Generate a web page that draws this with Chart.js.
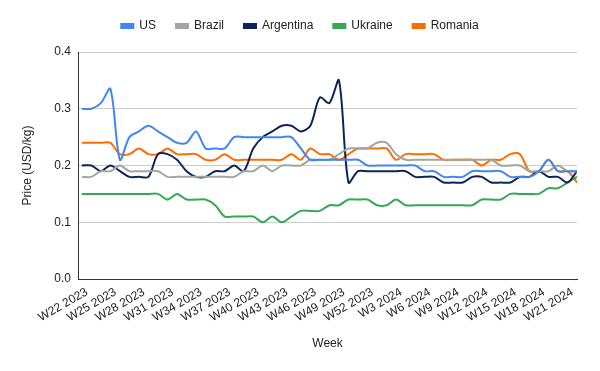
<!DOCTYPE html>
<html>
<head>
<meta charset="utf-8">
<script src="https://cdn.jsdelivr.net/npm/chart.js@4.4.1/dist/chart.umd.min.js"></script>
<style>
  html, body { margin: 0; padding: 0; background: #fff; }
  #wrap { width: 600px; height: 371px; }
</style>
</head>
<body>
<div id="wrap"><canvas id="chart"></canvas></div>
<script>
  // Weekly prices, W22 2023 .. W22 2024 (USD/kg)
  const WEEKS = [
    "W22 2023", "W23 2023", "W24 2023", "W25 2023", "W26 2023", "W27 2023", "W28 2023", "W29 2023",
    "W30 2023", "W31 2023", "W32 2023", "W33 2023", "W34 2023", "W35 2023", "W36 2023", "W37 2023",
    "W38 2023", "W39 2023", "W40 2023", "W41 2023", "W42 2023", "W43 2023", "W44 2023", "W45 2023",
    "W46 2023", "W47 2023", "W48 2023", "W49 2023", "W50 2023", "W51 2023", "W52 2023",
    "W1 2024", "W2 2024", "W3 2024", "W4 2024", "W5 2024", "W6 2024", "W7 2024", "W8 2024",
    "W9 2024", "W10 2024", "W11 2024", "W12 2024", "W13 2024", "W14 2024", "W15 2024", "W16 2024",
    "W17 2024", "W18 2024", "W19 2024", "W20 2024", "W21 2024", "W22 2024",
  ];
  const TICK_WEEKS = [
    "W22 2023", "W25 2023", "W28 2023", "W31 2023", "W34 2023", "W37 2023", "W40 2023", "W43 2023",
    "W46 2023", "W49 2023", "W52 2023", "W3 2024", "W6 2024", "W9 2024", "W12 2024", "W15 2024",
    "W18 2024", "W21 2024",
  ];

  const US = [
    0.30, 0.30, 0.31, 0.335, 0.21, 0.25, 0.26, 0.27, 0.26, 0.25, 0.24, 0.24, 0.26, 0.23, 0.23, 0.23,
    0.25, 0.25, 0.25, 0.25, 0.25, 0.25, 0.25, 0.23, 0.21, 0.21, 0.21, 0.21, 0.21, 0.21, 0.20,
    0.20, 0.20, 0.20, 0.20, 0.20, 0.19, 0.19, 0.18, 0.18, 0.18, 0.19, 0.19, 0.19, 0.19, 0.18, 0.18,
    0.18, 0.19, 0.21, 0.19, 0.19, 0.19,
  ];
  const BRAZIL = [
    0.18, 0.18, 0.19, 0.19, 0.20, 0.19, 0.19, 0.19, 0.19, 0.18, 0.18, 0.18, 0.18, 0.18, 0.18, 0.18,
    0.18, 0.19, 0.19, 0.20, 0.19, 0.20, 0.20, 0.20, 0.21, 0.21, 0.21, 0.22, 0.23, 0.23, 0.23,
    0.24, 0.24, 0.22, 0.21, 0.21, 0.21, 0.21, 0.21, 0.21, 0.21, 0.21, 0.21, 0.21, 0.20, 0.20, 0.20,
    0.19, 0.19, 0.19, 0.20, 0.19, 0.19,
  ];
  const ARGENTINA = [
    0.20, 0.20, 0.19, 0.20, 0.19, 0.18, 0.18, 0.18, 0.22, 0.22, 0.21, 0.19, 0.18, 0.18, 0.19, 0.19,
    0.20, 0.19, 0.23, 0.25, 0.26, 0.27, 0.27, 0.26, 0.27, 0.32, 0.31, 0.35, 0.17, 0.19, 0.19,
    0.19, 0.19, 0.19, 0.19, 0.18, 0.18, 0.18, 0.17, 0.17, 0.17, 0.18, 0.18, 0.17, 0.17, 0.17, 0.18,
    0.18, 0.19, 0.18, 0.18, 0.17, 0.19,
  ];
  const UKRAINE = [
    0.15, 0.15, 0.15, 0.15, 0.15, 0.15, 0.15, 0.15, 0.15, 0.14, 0.15, 0.14, 0.14, 0.14, 0.13, 0.11,
    0.11, 0.11, 0.11, 0.10, 0.11, 0.10, 0.11, 0.12, 0.12, 0.12, 0.13, 0.13, 0.14, 0.14, 0.14,
    0.13, 0.13, 0.14, 0.13, 0.13, 0.13, 0.13, 0.13, 0.13, 0.13, 0.13, 0.14, 0.14, 0.14, 0.15, 0.15,
    0.15, 0.15, 0.16, 0.16, 0.17, 0.18,
  ];
  const ROMANIA = [
    0.24, 0.24, 0.24, 0.24, 0.22, 0.22, 0.23, 0.22, 0.22, 0.23, 0.22, 0.22, 0.22, 0.21, 0.21, 0.22,
    0.21, 0.21, 0.21, 0.21, 0.21, 0.21, 0.22, 0.21, 0.23, 0.22, 0.22, 0.21, 0.22, 0.23, 0.23,
    0.23, 0.23, 0.21, 0.22, 0.22, 0.22, 0.22, 0.21, 0.21, 0.21, 0.21, 0.20, 0.21, 0.21, 0.22, 0.22,
    0.19, 0.19, 0.21, 0.19, 0.19, 0.17,
  ];

  const SERIES = [
    { label: "US", data: US, color: "#4285f4" },
    { label: "Brazil", data: BRAZIL, color: "#9ea89f" },
    { label: "Argentina", data: ARGENTINA, color: "#0c2459" },
    { label: "Ukraine", data: UKRAINE, color: "#34a853" },
    { label: "Romania", data: ROMANIA, color: "#ff6d01" },
  ];

  const TEXT = "#222222";
  Chart.defaults.font.family = "'Liberation Sans', Arial, sans-serif";
  Chart.defaults.font.size = 12;
  Chart.defaults.color = TEXT;

  // Pin the legend band height so the plot top lands where the reference has it
  const legendHeight = {
    id: "legendHeight",
    beforeInit(chart) {
      const fit = chart.legend.fit;
      chart.legend.fit = function () {
        fit.call(this);
        this.height = 52;
      };
    },
  };

  new Chart(document.getElementById("chart"), {
    type: "line",
    data: {
      datasets: SERIES.map((s) => ({
        label: s.label,
        data: s.data.map((v, i) => ({ x: i, y: v })),
        borderColor: s.color,
        backgroundColor: s.color,
        borderWidth: 2,
        pointRadius: 0,
        tension: 0.3,
      })),
    },
    options: {
      responsive: true,
      maintainAspectRatio: false,
      animation: false,
      layout: { padding: { left: 0, right: 0, top: 0, bottom: 20 } },
      plugins: {
        legend: {
          position: "top",
          labels: { boxWidth: 12, boxHeight: 4, padding: 20, color: TEXT, font: { size: 12 } },
        },
        tooltip: { enabled: false },
      },
      scales: {
        x: {
          type: "linear",
          min: -0.4,
          max: 52,
          afterBuildTicks: (s) => {
            s.ticks = TICK_WEEKS.map((w) => ({ value: WEEKS.indexOf(w) }));
          },
          afterFit: (s) => { s.height = 72; },
          ticks: {
            autoSkip: false,
            minRotation: 30,
            maxRotation: 30,
            padding: 6,
            labelOffset: 5,
            color: TEXT,
            callback: (v) => WEEKS[v],
          },
          grid: { display: false, drawTicks: false },
          border: { display: true, color: "#333333", width: 1 },
          title: { display: true, text: "Week", color: TEXT, padding: { top: 0, bottom: 0 } },
        },
        y: {
          min: 0,
          max: 0.4,
          afterFit: (s) => { s.width = 78; },
          ticks: { stepSize: 0.1, padding: 7, color: TEXT, callback: (v) => v.toFixed(1) },
          grid: { color: "#cccccc", drawTicks: false },
          border: { display: true, color: "#333333", width: 1 },
          title: { display: true, text: "Price (USD/kg)", color: TEXT, padding: { top: 20, bottom: 0 } },
        },
        // empty right-hand gutter, keeps the legend centred on the full width
        gutter: {
          type: "linear",
          position: "right",
          afterFit: (s) => { s.width = 23; },
          ticks: { display: false },
          grid: { display: false, drawTicks: false },
          border: { display: false },
        },
      },
    },
    plugins: [legendHeight],
  });
</script>
</body>
</html>
